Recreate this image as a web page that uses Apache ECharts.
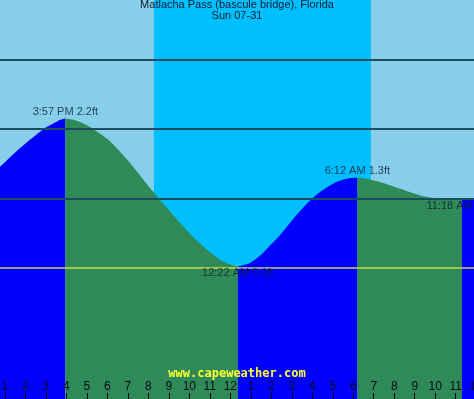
<!DOCTYPE html>
<html>
<head>
<meta charset="utf-8">
<title>Tide chart</title>
<script src="https://cdn.jsdelivr.net/npm/echarts@6/dist/echarts.min.js"></script>
<style>
  html, body { margin: 0; padding: 0; }
</style>
</head>
<body>
	<div id="main" style="width: 474px; height: 399px;"></div>
	<script type="text/javascript">

		// hours counted from Saturday 00:00 (24 = midnight, 36 = Sunday noon)
		var hourTicks = [13, 14, 15, 16, 17, 18, 19, 20, 21, 22, 23, 24, 25, 26, 27, 28, 29, 30, 31, 32, 33, 34, 35, 36];
		var tickLabels = ['1', '2', '3', '4', '5', '6', '7', '8', '9', '10', '11', '12', '1', '2', '3', '4', '5', '6', '7', '8', '9', '10', '11', '12'];

		// tide height (ft), one array per rising / falling stretch
		var rise1 = [[12.70, 1.44], [13.0, 1.52], [13.5, 1.66], [14.0, 1.79], [14.5, 1.91], [15.0, 2.02], [15.5, 2.10], [15.75, 2.135], [15.95, 2.15]];
		var fall1 = [[15.95, 2.15], [16.2, 2.14], [16.5, 2.12], [17.0, 2.055], [17.5, 1.96], [18.0, 1.855], [18.5, 1.71], [19.0, 1.545], [19.5, 1.365], [20.0, 1.18], [20.5, 1.005], [21.0, 0.835], [21.5, 0.665], [22.0, 0.505], [22.5, 0.36], [23.0, 0.23], [23.5, 0.12], [24.0, 0.05], [24.367, 0.02]];
		var rise2 = [[24.367, 0.02], [24.75, 0.05], [25.0, 0.08], [25.5, 0.19], [26.0, 0.34], [26.5, 0.50], [27.0, 0.68], [27.5, 0.85], [28.0, 1.00], [28.5, 1.12], [29.0, 1.21], [29.5, 1.27], [29.9, 1.295], [30.2, 1.30]];
		var fall2 = [[30.2, 1.30], [30.5, 1.29], [31.0, 1.26], [31.5, 1.22], [32.0, 1.17], [32.5, 1.12], [33.0, 1.07], [33.5, 1.03], [34.0, 1.005], [34.5, 0.99], [35.0, 0.985], [35.3, 0.985]];
		var rise3 = [[35.3, 0.985], [35.7, 0.995], [36.0, 1.01], [36.3, 1.03]];

		// high / low tide events
		var events = [[15.95, 2.15], [24.367, 0.02], [30.2, 1.30], [35.3, 0.985]];
		var eventLabels = ['3:57 PM 2.2ft', '12:22 AM 0.1ft', '6:12 AM 1.3ft', '11:18 AM 1.0ft'];
		var eventIsHigh = [true, false, true, false];

		var darkBand = [20.27, 30.86];
		var gridLevels = [1, 2, 3];
		var zeroLevel = 0;

		var RISE = '#0000ff', FALL = '#2e8b57';
		var PX_PER_HOUR = 20.49, X_MIN = 12.76, OVERHANG = 12;

		function area(data, color) {
			return {
				type: 'line', data: data, smooth: 0.4, symbol: 'none', z: 3,
				lineStyle: { width: 0 },
				areaStyle: { color: color, opacity: 1, origin: 'start' },
				silent: true
			};
		}

		var eventData = events.map(function (p, i) {
			return {
				value: p,
				label: {
					show: true,
					formatter: eventLabels[i],
					position: eventIsHigh[i] ? 'top' : 'bottom',
					distance: 1
				}
			};
		});

		var myChart = echarts.init(document.getElementById('main'));
		myChart.setOption({
			animation: false,
			backgroundColor: '#87ceeb',
			title: {
				text: 'Matlacha Pass (bascule bridge), Florida\nSun 07-31',
				left: 'center',
				top: -1,
				padding: 0,
				textStyle: {
					fontFamily: 'Liberation Sans',
					fontSize: 11,
					fontWeight: 'normal',
					lineHeight: 11,
					color: '#0c1c2c'
				}
			},
			// plot runs a little past the right edge so the last hour label is half cut, as in the source
			grid: { left: 0, right: -OVERHANG, top: 0, bottom: 0, outerBoundsMode: 'none' },
			xAxis: {
				type: 'value',
				z: 10,
				min: X_MIN,
				max: X_MIN + (474 + OVERHANG) / PX_PER_HOUR,
				splitLine: { show: false },
				axisLine: { show: false, onZero: false },
				axisTick: {
					inside: true, length: 6, customValues: hourTicks,
					lineStyle: { color: '#000', width: 1 }
				},
				axisLabel: {
					inside: true, margin: 6, customValues: hourTicks,
					hideOverlap: false, showMinLabel: true, showMaxLabel: true,
					fontFamily: 'Liberation Sans', fontSize: 12, color: '#0a0a1a',
					formatter: function (v) { return tickLabels[hourTicks.indexOf(v)]; }
				}
			},
			yAxis: {
				type: 'value', min: -1.885, max: 3.856, show: false
			},
			graphic: [{
				type: 'text', left: 'center', top: 368, z: 100,
				style: {
					text: 'www.capeweather.com',
					font: 'bold 12px "DejaVu Sans Mono"',
					fill: '#ffff33'
				}
			}],
			series: [
				{
					type: 'line', data: [], z: 1, silent: true,
					markArea: {
						silent: true,
						itemStyle: { color: '#00bfff' },
						data: [[{ xAxis: darkBand[0] }, { xAxis: darkBand[1] }]]
					},
					markLine: {
						silent: true, symbol: 'none', label: { show: false },
						lineStyle: { color: '#1d4b62', width: 2, type: 'solid' },
						data: gridLevels.map(function (v) { return { yAxis: v }; })
					}
				},
				area(rise1, RISE),
				area(fall1, FALL),
				area(rise2, RISE),
				area(fall2, FALL),
				area(rise3, RISE),
				{
					type: 'line', data: [], z: 5, silent: true,
					markLine: {
						silent: true, symbol: 'none', label: { show: false },
						lineStyle: { color: '#c8d84a', width: 1.5, type: 'solid' },
						data: [{ yAxis: zeroLevel }]
					}
				},
				{
					type: 'scatter', data: eventData, symbolSize: 0, z: 6, silent: true,
					label: {
						fontFamily: 'Liberation Sans', fontSize: 11, color: '#0c1c2c'
					}
				}
			]
		});
	</script>
</body>
</html>
